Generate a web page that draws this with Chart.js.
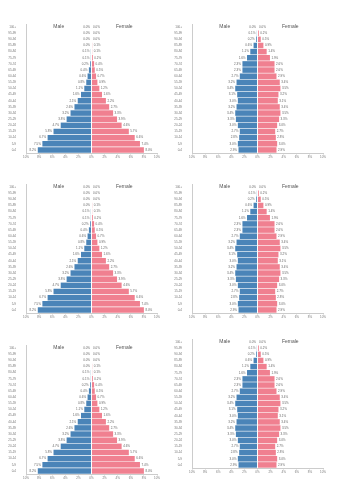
<!DOCTYPE html>
<html>
<head>
<meta charset="utf-8">
<script src="https://cdn.jsdelivr.net/npm/chart.js@4.4.1/dist/chart.umd.min.js"></script>
<style>
    body { margin: 0; background: #fff; }
    #wrap { position: relative; width: 353px; height: 500px; overflow: hidden; }
    #wrap canvas { position: absolute; }
</style>
</head>
<body>
<div id="wrap"></div>
<script>
// age groups, youngest first (drawn at the bottom)
const ageGroups = ['0-4', '5-9', '10-14', '15-19', '20-24', '25-29', '30-34', '35-39', '40-44', '45-49',
    '50-54', '55-59', '60-64', '65-69', '70-74', '75-79', '80-84', '85-89', '90-94', '95-99', '100+'];

// left column pyramid (% of population)
const youngMale = [8.2, 7.5, 6.7, 5.8, 4.7, 3.8, 3.2, 2.6, 2.1, 1.6, 1.1, 0.8, 0.6, 0.4, 0.2, 0.1, 0.1, 0.0, 0.0, 0.0, 0.0];
const youngFemale = [8.0, 7.4, 6.6, 5.7, 4.6, 3.9, 3.3, 2.7, 2.2, 1.6, 1.2, 0.9, 0.7, 0.5, 0.4, 0.2, 0.1, 0.1, 0.0, 0.0, 0.0];

// right column pyramid
const oldMale = [2.9, 3.0, 2.8, 2.7, 3.0, 3.3, 3.4, 3.2, 3.0, 3.1, 3.4, 3.2, 2.7, 2.3, 2.3, 1.6, 1.1, 0.6, 0.2, 0.1, 0.0];
const oldFemale = [2.9, 3.0, 2.8, 2.7, 3.0, 3.3, 3.5, 3.4, 3.1, 3.2, 3.5, 3.4, 2.9, 2.6, 2.6, 1.9, 1.4, 0.9, 0.5, 0.2, 0.0];

const xMin = -10;
const xMax = 10;
const xStep = 2;

const FONT = "'Liberation Sans', Arial, sans-serif";
const MALE_COLOR = 'rgb(74, 132, 184)';
const FEMALE_COLOR = 'rgb(240, 128, 144)';

// plot-area placement of each pyramid on the page
const panels = [
    { left: 26, top: 24, male: youngMale, female: youngFemale },
    { left: 192, top: 24, male: oldMale, female: oldFemale },
    { left: 26, top: 184, male: youngMale, female: youngFemale },
    { left: 192, top: 184, male: oldMale, female: oldFemale },
    { left: 26, top: 345, male: youngMale, female: youngFemale },
    { left: 192, top: 339, male: oldMale, female: oldFemale }
];

const Y_AXIS_W = 26;
const X_AXIS_H = 8;
const PLOT_W = 131;
const PLOT_H = 129;
const PAD = { top: 4, right: 12, bottom: 2, left: 0 };

// value labels at the bar ends + Male / Female headings
const pyramidLabels = {
    id: 'pyramidLabels',
    afterDatasetsDraw(chart) {
        const ctx = chart.ctx;
        ctx.save();
        ctx.font = `3px ${FONT}`;
        ctx.fillStyle = '#666';
        ctx.textBaseline = 'middle';
        chart.data.datasets.forEach((ds, i) => {
            const meta = chart.getDatasetMeta(i);
            const isMale = i === 0;
            meta.data.forEach((bar, j) => {
                const text = Math.abs(ds.data[j]).toFixed(1) + '%';
                ctx.textAlign = isMale ? 'right' : 'left';
                ctx.fillText(text, isMale ? bar.x - 1.5 : bar.x + 1.5, bar.y);
            });
        });

        const xs = chart.scales.x;
        const area = chart.chartArea;
        ctx.font = `5px ${FONT}`;
        ctx.fillStyle = '#555';
        ctx.textAlign = 'center';
        ctx.fillText('Male', xs.getPixelForValue(xMin / 2), area.top + 2.5);
        ctx.fillText('Female', xs.getPixelForValue(xMax / 2), area.top + 2.5);
        ctx.restore();
    }
};

function buildPyramid(panel) {
    const canvas = document.createElement('canvas');
    const w = Y_AXIS_W + PLOT_W + PAD.right;
    const h = PAD.top + PLOT_H + X_AXIS_H + PAD.bottom;
    canvas.width = w;
    canvas.height = h;
    canvas.style.width = w + 'px';
    canvas.style.height = h + 'px';
    canvas.style.left = (panel.left - Y_AXIS_W) + 'px';
    canvas.style.top = (panel.top - PAD.top) + 'px';
    document.getElementById('wrap').appendChild(canvas);

    return new Chart(canvas, {
        type: 'bar',
        data: {
            labels: ageGroups,
            datasets: [
                {
                    label: 'Male',
                    data: panel.male.map(v => -v),
                    backgroundColor: MALE_COLOR,
                    barPercentage: 1,
                    categoryPercentage: 0.9
                },
                {
                    label: 'Female',
                    data: panel.female,
                    backgroundColor: FEMALE_COLOR,
                    barPercentage: 1,
                    categoryPercentage: 0.9
                }
            ]
        },
        options: {
            indexAxis: 'y',
            responsive: false,
            animation: false,
            devicePixelRatio: 1,
            layout: { padding: PAD },
            plugins: {
                legend: { display: false },
                tooltip: { enabled: false }
            },
            scales: {
                x: {
                    stacked: true,
                    min: xMin,
                    max: xMax,
                    ticks: {
                        stepSize: xStep,
                        padding: 1,
                        color: '#777',
                        font: { size: 3, family: FONT },
                        maxRotation: 0,
                        callback: v => Math.abs(v) + '%'
                    },
                    grid: { drawOnChartArea: false, drawTicks: true, tickLength: 1.5, color: '#ccc' },
                    border: { color: '#ccc' },
                    afterFit(scale) {
                        scale.height = X_AXIS_H;
                        scale.paddingLeft = 0;
                        scale.paddingRight = 0;
                    }
                },
                y: {
                    stacked: true,
                    reverse: true,
                    ticks: {
                        padding: 2,
                        color: '#777',
                        font: { size: 3, family: FONT },
                        autoSkip: false
                    },
                    grid: { display: false },
                    border: { color: '#ccc' },
                    afterFit(scale) {
                        scale.width = Y_AXIS_W;
                        scale.paddingTop = 0;
                        scale.paddingBottom = 0;
                    }
                }
            }
        },
        plugins: [pyramidLabels]
    });
}

panels.forEach(buildPyramid);
</script>
</body>
</html>
